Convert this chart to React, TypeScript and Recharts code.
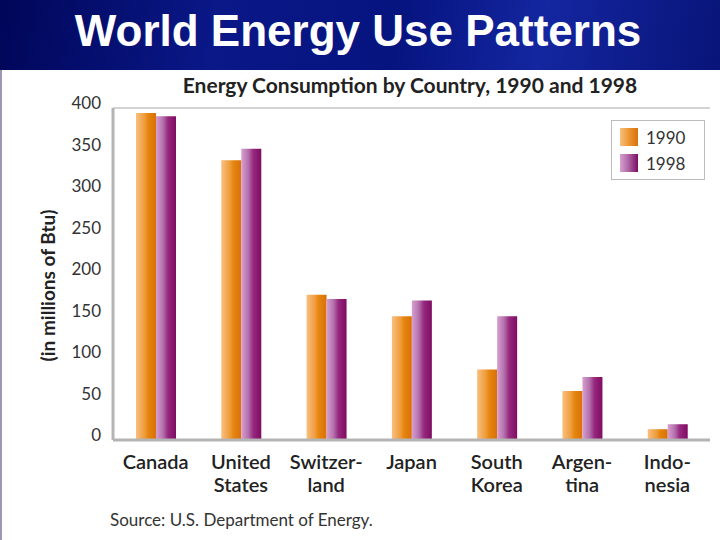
import React from 'react'
import { BarChart, Bar, XAxis, YAxis, CartesianGrid } from 'recharts'

const COUNTRIES = ['Canada', 'United States', 'Switzer-land', 'Japan', 'South Korea', 'Argen-tina', 'Indo-nesia']
const LABEL_LINES = [['Canada'], ['United', 'States'], ['Switzer-', 'land'], ['Japan'], ['South', 'Korea'], ['Argen-', 'tina'], ['Indo-', 'nesia']]
const USE_1990 = [394, 337, 175, 149, 85, 59, 13]
const USE_1998 = [390, 351, 170, 168, 149, 76, 19]
const Y_TICKS = [0, 50, 100, 150, 200, 250, 300, 350, 400]

const FONT = "Lato, 'Open Sans', 'DejaVu Sans', sans-serif"

const data = COUNTRIES.map((c, i) => ({ name: c, y1990: USE_1990[i], y1998: USE_1998[i] }))

function XTick(props: any) {
  const { x, y, payload } = props
  const lines = LABEL_LINES[payload.index] || [payload.value]
  return (
    <text x={x} y={y + 29} textAnchor="middle" fontFamily={FONT} fontSize={20} fontWeight={600} fill="#222">
      {lines.map((l, i) => (
        <tspan key={i} x={x} dy={i === 0 ? 0 : 23}>{l}</tspan>
      ))}
    </text>
  )
}

function YTick(props: any) {
  const { y, payload } = props
  return (
    <text x={101} y={y + 1} textAnchor="end" fontFamily={FONT} fontSize={17} fill="#333">
      {payload.value}
    </text>
  )
}

function LegendBox() {
  const item = (grad: string, label: string) => (
    <div style={{ display: 'flex', alignItems: 'center', height: 26 }}>
      <div style={{ width: 18, height: 18, background: grad, marginRight: 8 }} />
      <span style={{ fontFamily: FONT, fontSize: 17, color: '#333' }}>{label}</span>
    </div>
  )
  return (
    <div style={{ position: 'absolute', left: 611, top: 120, border: '1px solid #bdbdbd', background: '#fff', width: 84, height: 55, padding: '3px 0 0 8px' }}>
      {item('linear-gradient(90deg, #f8c080, #ee9a38 45%, #d87008)', '1990')}
      {item('linear-gradient(90deg, #d8a0d0, #b470ac 40%, #7e0c62)', '1998')}
    </div>
  )
}

export default function App() {
  return (
    <div style={{ position: 'absolute', left: 0, top: 0, width: 720, height: 540, background: '#fff', overflow: 'hidden' }}>
      <div
        style={{
          position: 'absolute', left: 0, top: 0, width: 720, height: 70,
          background: 'linear-gradient(100deg, #000658 0%, #0a1888 30%, #061480 55%, #1426a0 75%, #081478 100%)',
        }}
      />
      <div style={{ position: 'absolute', left: 0, top: 70, width: 2, height: 470, background: '#9a9ab8' }} />
      <div
        style={{
          position: 'absolute', left: 0, top: 6, width: 716, textAlign: 'center',
          fontFamily: "Arial, 'Liberation Sans', sans-serif", fontWeight: 700, fontSize: 44, color: '#fff',
        }}
      >
        World Energy Use Patterns
      </div>
      <div
        style={{
          position: 'absolute', left: 0, top: 72, width: 820, textAlign: 'center',
          fontFamily: FONT, fontWeight: 700, fontSize: 21, color: '#222',
        }}
      >
        Energy Consumption by Country, 1990 and 1998
      </div>
      <div style={{ position: 'absolute', left: 47, top: 286, width: 0, height: 0 }}>
        <div
          style={{
            position: 'absolute', left: -100, top: -12, width: 200, textAlign: 'center', transform: 'rotate(-90deg)',
            fontFamily: FONT, fontWeight: 700, fontSize: 19, color: '#222', whiteSpace: 'nowrap',
          }}
        >
          (in millions of Btu)
        </div>
      </div>
      <div style={{ position: 'absolute', left: 110, top: 509, fontFamily: FONT, fontSize: 17, color: '#333' }}>
        Source: U.S. Department of Energy.
      </div>
      <div style={{ position: 'absolute', left: 0, top: 0 }}>
        <BarChart
          width={720}
          height={540}
          data={data}
          margin={{ top: 108, right: 10, bottom: 70, left: 63 }}
          barGap={0}
          barSize={20}
        >
          <defs>
            <linearGradient id="g1990" x1="0" y1="0" x2="1" y2="0">
              <stop offset="0%" stopColor="#f8c080" />
              <stop offset="45%" stopColor="#ee9a38" />
              <stop offset="60%" stopColor="#e6860f" />
              <stop offset="100%" stopColor="#d87008" />
            </linearGradient>
            <linearGradient id="g1998" x1="0" y1="0" x2="1" y2="0">
              <stop offset="0%" stopColor="#d8a0d0" />
              <stop offset="35%" stopColor="#b470ac" />
              <stop offset="60%" stopColor="#96287e" />
              <stop offset="100%" stopColor="#7e0c62" />
            </linearGradient>
          </defs>
          <CartesianGrid vertical={false} stroke="#c4c4c4" strokeWidth={1.5} />
          <XAxis
            dataKey="name"
            height={30}
            tick={<XTick />}
            tickLine={false}
            tickSize={0}
            tickMargin={0}
            axisLine={{ stroke: '#b4b4b4', strokeWidth: 3 }}
            interval={0}
          />
          <YAxis
            yAxisId="left"
            domain={[0, 400]}
            ticks={Y_TICKS}
            tick={<YTick />}
            tickLine={false}
            width={50}
            axisLine={{ stroke: '#b4b4b4', strokeWidth: 3 }}
          />
          <YAxis
            yAxisId="right"
            orientation="right"
            domain={[0, 400]}
            ticks={Y_TICKS}
            tick={false}
            tickLine={false}
            width={0}
            axisLine={{ stroke: '#c4c4c4', strokeWidth: 1.5 }}
          />
          <Bar yAxisId="left" dataKey="y1990" name="1990" fill="url(#g1990)" isAnimationActive={false} />
          <Bar yAxisId="left" dataKey="y1998" name="1998" fill="url(#g1998)" isAnimationActive={false} />
        </BarChart>
      </div>
      <LegendBox />
    </div>
  )
}
